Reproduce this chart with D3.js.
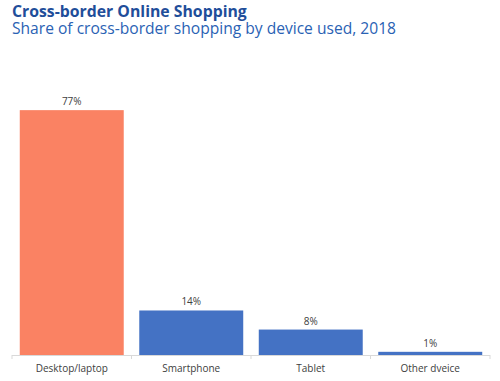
<!DOCTYPE html>
<html>
<head>
<meta charset="utf-8">
<script src="https://cdn.jsdelivr.net/npm/d3@7"></script>
<style>
  body { margin: 0; background: #fff; }
  text { font-family: "Open Sans", Arial, sans-serif; }
</style>
</head>
<body>
<div id="chart"></div>
<script>
// data
var devices = ["Desktop/laptop", "Smartphone", "Tablet", "Other dveice"];
var shares = [77, 14, 8, 1];
var barColors = ["#FA8263", "#4472C4", "#4472C4", "#4472C4"];

var margin = {top: 45, right: 10, bottom: 26, left: 12},
    width = 500 - margin.left - margin.right,
    height = 381 - margin.top - margin.bottom;

var svg = d3.select("#chart").append("svg")
    .attr("width", 500)
    .attr("height", 381);

// title
svg.append("text")
    .attr("x", 12)
    .attr("y", 17)
    .style("font-size", "15.8px")
    .style("font-weight", "bold")
    .style("fill", "#1F4E9A")
    .text("Cross-border Online Shopping");

// subtitle
svg.append("text")
    .attr("x", 12)
    .attr("y", 34)
    .style("font-size", "15.6px")
    .style("fill", "#2A62B4")
    .text("Share of cross-border shopping by device used, 2018");

var g = svg.append("g")
    .attr("transform", "translate(" + margin.left + "," + margin.top + ")");

var x = d3.scaleBand()
    .domain(devices)
    .range([0, width])
    .paddingInner(0.13)
    .paddingOuter(0.065);

var y = d3.scaleLinear()
    .domain([0, 100])
    .range([height, height - 318]);

// axis line with ticks between categories
var tickPos = devices.map(function(d) { return x(d) - x.step() * x.paddingInner() / 2; });
tickPos.push(width);

g.append("line")
    .attr("x1", 0)
    .attr("x2", width)
    .attr("y1", height + 0.5)
    .attr("y2", height + 0.5)
    .style("stroke", "#D9D9D9");

g.selectAll(".tick")
    .data(tickPos)
  .enter().append("line")
    .attr("x1", function(d) { return d; })
    .attr("x2", function(d) { return d; })
    .attr("y1", height)
    .attr("y2", height + 4)
    .style("stroke", "#D9D9D9");

// bars
g.selectAll(".bar")
    .data(shares)
  .enter().append("rect")
    .attr("x", function(d, i) { return x(devices[i]); })
    .attr("y", function(d) { return y(d); })
    .attr("width", x.bandwidth())
    .attr("height", function(d) { return height - y(d); })
    .style("fill", function(d, i) { return barColors[i]; });

// value labels
g.selectAll(".val")
    .data(shares)
  .enter().append("text")
    .attr("x", function(d, i) { return x(devices[i]) + x.bandwidth() / 2; })
    .attr("y", function(d) { return y(d) - 5; })
    .attr("text-anchor", "middle")
    .style("font-size", "10px")
    .style("fill", "#404040")
    .text(function(d) { return d + "%"; });

// category labels
g.selectAll(".cat")
    .data(devices)
  .enter().append("text")
    .attr("x", function(d) { return x(d) + x.bandwidth() / 2; })
    .attr("y", height + 17)
    .attr("text-anchor", "middle")
    .style("font-size", "10px")
    .style("fill", "#404040")
    .text(function(d) { return d; });
</script>
</body>
</html>
